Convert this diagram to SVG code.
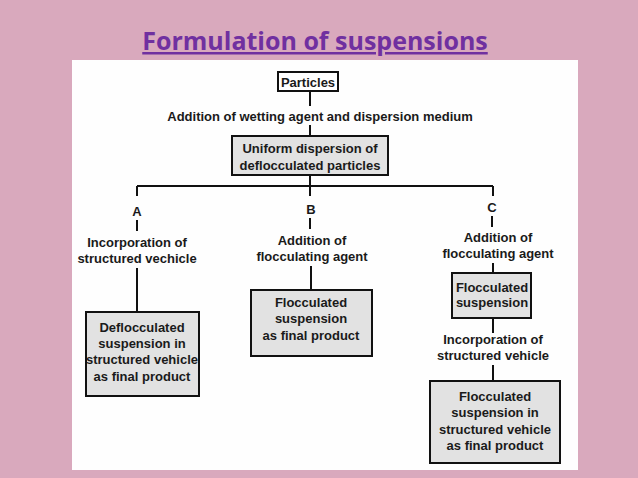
<svg xmlns="http://www.w3.org/2000/svg" width="638" height="478" viewBox="0 0 638 478">
<style>
.t{font-family:"Liberation Sans",sans-serif;font-size:13px;font-weight:bold;fill:#1a1a1a;text-anchor:middle}
.b{fill:#e2e2e2;stroke:#111;stroke-width:2}
.w{fill:#fff;stroke:#111;stroke-width:2}
#connectors line{stroke:#111;stroke-width:2}
</style>
<rect width="638" height="478" fill="#d9a9bd"/>
<rect x="72" y="60" width="506" height="410" fill="#fefefe"/>
<text x="315" y="50" style="font-family:'Open Sans','Liberation Sans',sans-serif;font-size:25px;font-weight:bold;fill:#7030a0;text-anchor:middle;text-decoration:underline">Formulation of suspensions</text>
<g id="connectors">
<line x1="310" y1="91" x2="310" y2="106"/>
<line x1="310" y1="125" x2="310" y2="136"/>
<line x1="310" y1="175" x2="310" y2="196"/>
<line x1="137" y1="186" x2="493" y2="186"/>
<line x1="137" y1="186" x2="137" y2="196"/>
<line x1="493" y1="186" x2="493" y2="196"/>
<line x1="137" y1="220" x2="137" y2="231"/>
<line x1="310" y1="218" x2="310" y2="229"/>
<line x1="492" y1="216" x2="492" y2="227"/>
<line x1="137" y1="268" x2="137" y2="311"/>
<line x1="311" y1="266" x2="311" y2="290"/>
<line x1="493" y1="263" x2="493" y2="273"/>
<line x1="493" y1="318" x2="493" y2="333"/>
<line x1="493" y1="365" x2="493" y2="381"/>
</g>
<g id="particles"><rect class="w" x="278" y="72" width="60" height="19"/><text class="t" x="308" y="87">Particles</text></g>
<g id="step1"><text class="t" x="320" y="121">Addition of wetting agent and dispersion medium</text></g>
<g id="uniform"><rect class="b" x="232" y="136" width="156" height="39"/><text class="t" x="310" y="153">Uniform dispersion of</text><text class="t" x="310" y="170">deflocculated particles</text></g>
<g id="A"><text class="t" x="137" y="216">A</text><text class="t" x="137" y="247">Incorporation of</text><text class="t" x="137" y="263">structured vechicle</text></g>
<g id="B"><text class="t" x="311" y="214">B</text><text class="t" x="312" y="245">Addition of</text><text class="t" x="312" y="261">flocculating agent</text></g>
<g id="C"><text class="t" x="492" y="212">C</text><text class="t" x="498" y="242">Addition of</text><text class="t" x="498" y="258">flocculating agent</text></g>
<g id="boxA"><rect class="b" x="86" y="312" width="113" height="84"/><text class="t" x="142" y="332">Deflocculated</text><text class="t" x="142" y="348">suspension in</text><text class="t" x="142" y="364">structured vehicle</text><text class="t" x="142" y="381">as final product</text></g>
<g id="boxB"><rect class="b" x="251" y="290" width="121" height="66"/><text class="t" x="311" y="307">Flocculated</text><text class="t" x="311" y="323">suspension</text><text class="t" x="311" y="340">as final product</text></g>
<g id="boxC1"><rect class="b" x="452" y="273" width="79" height="45"/><text class="t" x="492" y="292">Flocculated</text><text class="t" x="492" y="307">suspension</text></g>
<g id="stepC"><text class="t" x="493" y="344">Incorporation of</text><text class="t" x="493" y="360">structured vehicle</text></g>
<g id="boxC2"><rect class="b" x="430" y="381" width="130" height="82"/><text class="t" x="495" y="401">Flocculated</text><text class="t" x="495" y="417">suspension in</text><text class="t" x="495" y="434">structured vehicle</text><text class="t" x="495" y="450">as final product</text></g>
</svg>
